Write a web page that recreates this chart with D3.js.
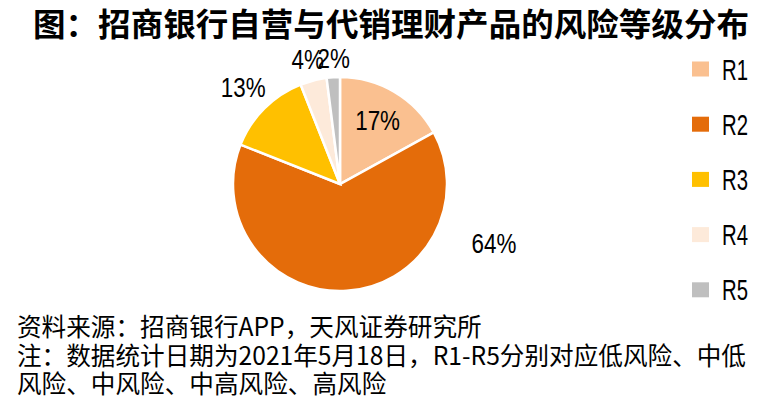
<!DOCTYPE html>
<html>
<head>
<meta charset="utf-8">
<script src="https://cdn.jsdelivr.net/npm/d3@7"></script>
<style>
  body { margin: 0; background: #fff; }
  svg { display: block; }
</style>
</head>
<body>
<svg id="chart"></svg>
<script>
// risk levels and their share of products (%)
const levels = ["R1", "R2", "R3", "R4", "R5"]
const shares = [17, 64, 13, 4, 2]
const colors = ["#FAC090", "#E46C0A", "#FFC000", "#FDEADA", "#BFBFBF"]

const titleText = "图：招商银行自营与代销理财产品的风险等级分布"
const notes = [
    "资料来源：招商银行APP，天风证券研究所",
    "注：数据统计日期为2021年5月18日，R1-R5分别对应低风险、中低",
    "风险、中风险、中高风险、高风险"
]

const width = 768
const height = 411
const cjk = "'Noto Sans CJK SC', 'Noto Sans', sans-serif"
const latin = "'Liberation Sans', Arial, sans-serif"

const svg = d3.select("#chart")
    .attr("width", width)
    .attr("height", height)

//squeeze (or stretch) text horizontally, the original uses a narrow font
function condense(sel, k) {
    sel.each(function() {
        const w = this.getComputedTextLength()
        d3.select(this)
            .attr("textLength", w * k)
            .attr("lengthAdjust", "spacingAndGlyphs")
    })
}

//title
const title = svg.append("text")
    .attr("x", 33)
    .attr("y", 36)
    .style("font-family", cjk)
    .style("font-weight", "bold")
    .style("font-size", "32px")
    .attr("fill", "#000")
    .text(titleText)
title.attr("textLength", 716).attr("lengthAdjust", "spacingAndGlyphs")

//pie
const cx = 340, cy = 184, radius = 107

const pie = d3.pie()
    .sort(null)
    .value(d => d)

const data_ready = pie(shares)

const arc = d3.arc()
    .innerRadius(0)
    .outerRadius(radius)

const g = svg.append("g")
    .attr("transform", `translate(${cx}, ${cy})`)

g.selectAll("path")
    .data(data_ready)
    .enter()
    .append("path")
    .attr("d", arc)
    .attr("fill", (d, i) => colors[i])
    .attr("stroke", "#fff")
    .style("stroke-width", "2.5px")

// where each label sits: t = fraction along the slice angle, k = radius factor
const labelPlace = [
    { t: 0.5, k: 0.69 },
    { t: 0.216, k: 1.54 },
    { t: 0.5, k: 1.28 },
    { t: 0.5, k: 1.21 },
    { t: 0.6, k: 1.18 }
]

const labels = g.selectAll("text.lbl")
    .data(data_ready)
    .enter()
    .append("text")
    .attr("class", "lbl")
    .attr("transform", (d, i) => {
        const p = labelPlace[i]
        const a = d.startAngle + (d.endAngle - d.startAngle) * p.t
        const r = radius * p.k
        return `translate(${r * Math.sin(a)}, ${-r * Math.cos(a) + 10})`
    })
    .attr("text-anchor", "middle")
    .style("font-family", latin)
    .style("font-size", "28px")
    .attr("fill", "#000")
    .text(d => d.value + "%")
condense(labels, 0.8)

//legend
const legend = svg.append("g")
    .attr("transform", "translate(692, 69)")

const items = legend.selectAll("g")
    .data(levels)
    .enter()
    .append("g")
    .attr("transform", (d, i) => `translate(0, ${i * 55.2})`)

items.append("rect")
    .attr("x", 0)
    .attr("y", -7.5)
    .attr("width", 17)
    .attr("height", 15)
    .attr("fill", (d, i) => colors[i])

const legText = items.append("text")
    .attr("x", 30)
    .attr("y", 10.5)
    .style("font-family", latin)
    .style("font-size", "29px")
    .attr("fill", "#000")
    .text(d => d)
condense(legText, 0.7)

//source and notes
const noteText = svg.selectAll("text.note")
    .data(notes)
    .enter()
    .append("text")
    .attr("class", "note")
    .attr("x", 17)
    .attr("y", (d, i) => 336 + i * 28.5)
    .style("font-family", cjk)
    .style("font-size", "25px")
    .attr("fill", "#000")
    .text(d => d)

// the second line in the original ends around x = 746
const w2 = noteText.nodes()[1].getComputedTextLength()
condense(noteText, 729 / w2)
</script>
</body>
</html>
